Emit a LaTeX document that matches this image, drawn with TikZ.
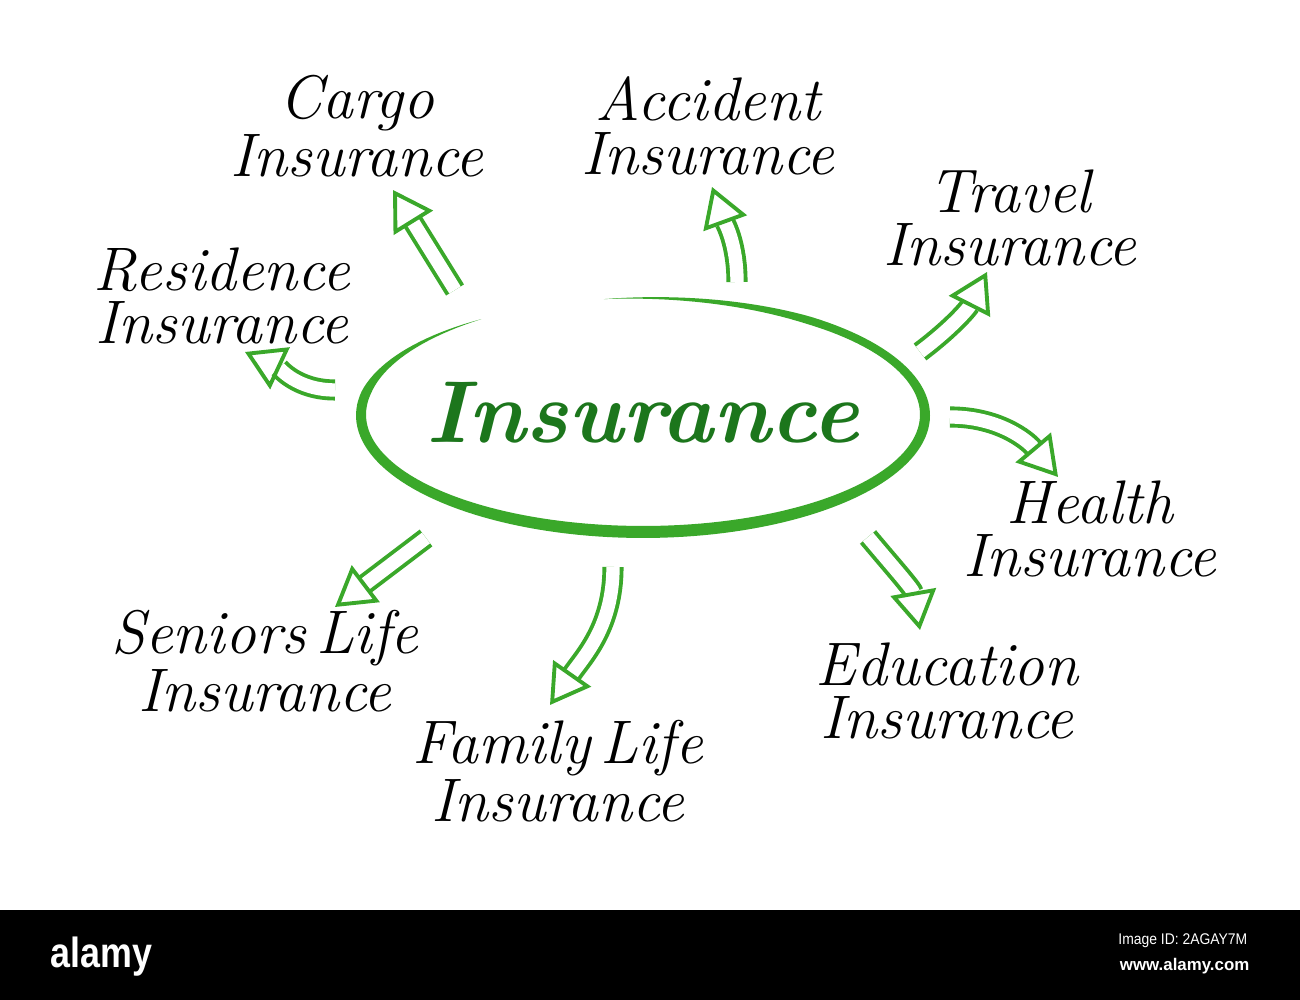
\documentclass[tikz,border=0pt]{standalone}
\usepackage{fontspec}
\usetikzlibrary{positioning,arrows.meta}
\newfontfamily\barfont{Liberation Sans}
\definecolor{leafgreen}{RGB}{58,168,42}
\definecolor{hubgreen}{RGB}{28,118,28}
\tikzset{
  leaf/.style={font=\itshape\fontsize{17.5}{15.2}\selectfont, align=center, inner sep=0pt},
  hubtext/.style={text=hubgreen, font=\bfseries\itshape\fontsize{25}{30}\selectfont, inner sep=0pt},
  hollow/.style={draw=leafgreen, double=white, double distance=3.8pt, line width=1.1pt,
                 -{Triangle[open, length=11pt, width=13pt]}},
  bartext/.style={text=white, inner sep=0pt},
  declare function={ringw(\ang)=0.05*(1-0.2*sin(\ang))*min(1,2.5*max(0,sin((98-\ang)*0.5405)));},
}

\begin{document}
\begin{tikzpicture}
  \useasboundingbox (0,0) rectangle (13,10);
  \fill[white] (0,0) rectangle (13,10);

  % hub
  \node[hubtext] (hub) at (6.43,5.87) {Insurance};
  \fill[leafgreen]
    plot[variable=\ang, domain=98:-235, samples=160]
      ({6.43+(2.82+ringw(\ang))*cos(\ang)},{5.85+(1.17+ringw(\ang))*sin(\ang)})
    -- plot[variable=\ang, domain=-235:98, samples=160]
      ({6.43+(2.82-ringw(\ang))*cos(\ang)},{5.85+(1.17-ringw(\ang))*sin(\ang)})
    -- cycle;

  % labels
  \node[leaf] (cargo) at (3.57,8.74) {Cargo\\Insurance};
  \node[leaf] (accident) at (7.08,8.74) {Accident\\Insurance};
  \node[leaf] (travel) at (10.10,7.82) {Travel\\Insurance};
  \node[leaf] (residence) at (2.22,7.04) {Residence\\Insurance};
  \node[leaf] (health) at (10.90,4.71) {Health\\Insurance};
  \node[leaf] (seniors) at (2.65,3.39) {Seniors\,Life\\Insurance};
  \node[leaf] (family) at (5.58,2.29) {Family\,Life\\Insurance};
  \node[leaf] (education) at (9.47,3.09) {Education\\Insurance};

  % arrow ends
  \coordinate (cargoT) at (4.55,7.10);     \coordinate (cargoH) at (3.93,8.10);
  \coordinate (accidentT) at (7.37,7.18);  \coordinate (accidentH) at (7.12,8.13);
  \coordinate (travelT) at (9.20,6.48);    \coordinate (travelH) at (9.87,7.28);
  \coordinate (healthT) at (9.50,5.83);    \coordinate (healthH) at (10.58,5.23);
  \coordinate (educationT) at (8.68,4.63); \coordinate (educationH) at (9.20,3.70);
  \coordinate (familyT) at (6.13,4.33);    \coordinate (familyH) at (5.50,2.95);
  \coordinate (seniorsT) at (4.26,4.62);   \coordinate (seniorsH) at (3.35,3.93);
  \coordinate (residenceT) at (3.35,6.10); \coordinate (residenceH) at (2.45,6.48);

  \draw[hollow] (cargoT) -- (cargoH);
  \draw[hollow] (accidentT) to[out=90, in=-70] (accidentH);
  \draw[hollow] (travelT) to[out=37, in=-117] (travelH);
  \draw[hollow] (healthT) to[out=0, in=130] (healthH);
  \draw[hollow] (educationT) to[out=-50, in=100] (educationH);
  \draw[hollow] (familyT) to[out=-90, in=55] (familyH);
  \draw[hollow] (seniorsT) -- (seniorsH);
  \draw[hollow] (residenceT) to[out=180, in=-25] (residenceH);

  % stock bar
  \fill[black] (0,0) rectangle (13,0.9);
  \node[bartext, font=\barfont\bfseries\fontsize{12}{12}\selectfont, anchor=base west] (brand)
    at (0.50,0.32) {\scalebox{0.85}[1]{alamy}};
  \node[bartext, font=\barfont\fontsize{4.4}{4.4}\selectfont, anchor=base east] (imgid)
    at (12.48,0.55) {\scalebox{0.9}[1]{Image ID: 2AGAY7M}};
  \node[bartext, font=\barfont\bfseries\fontsize{4.8}{4.8}\selectfont, anchor=base east] (site)
    at (12.50,0.29) {www.alamy.com};
\end{tikzpicture}
\end{document}
